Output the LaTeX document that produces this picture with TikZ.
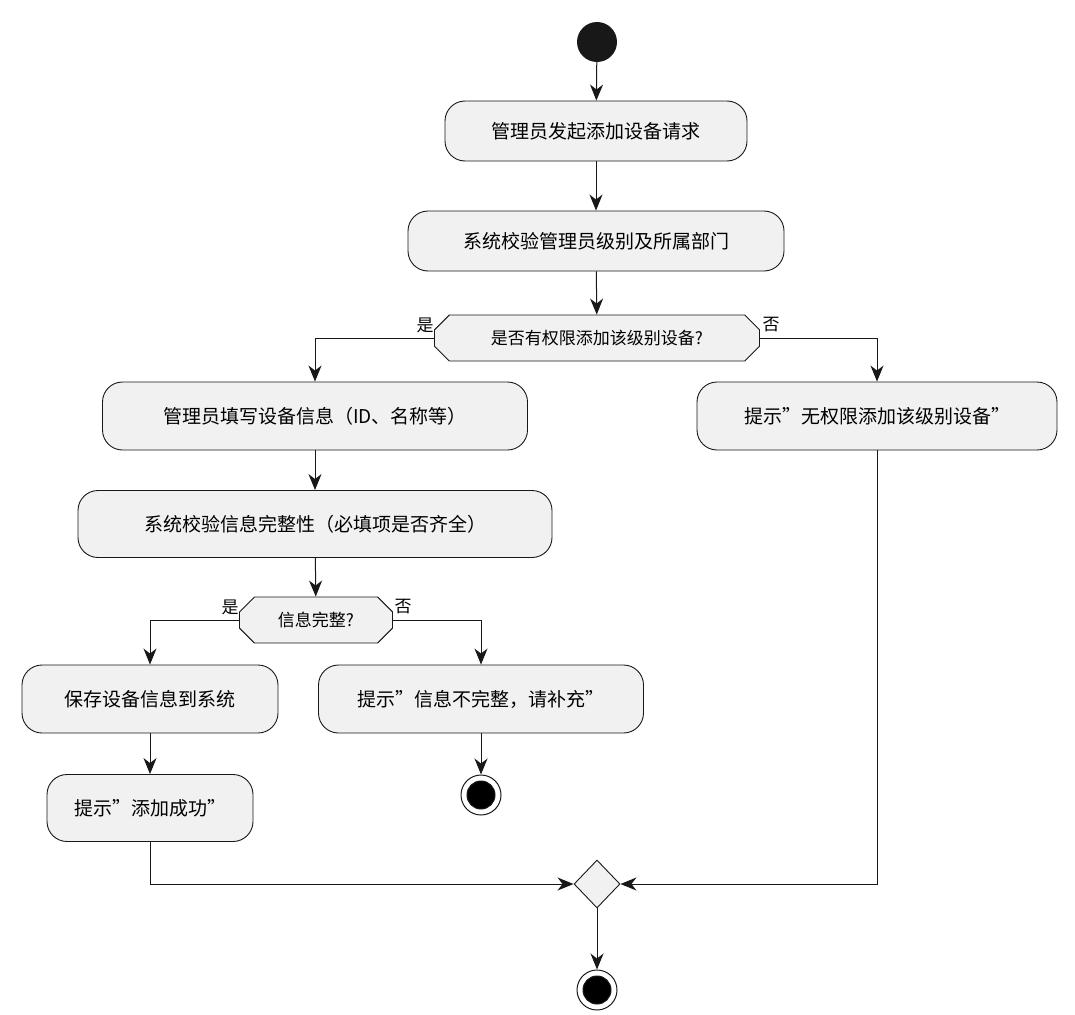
\documentclass[tikz,border=0pt]{standalone}
\usepackage{fontspec}
\setmainfont{Noto Sans CJK SC}
\usetikzlibrary{arrows.meta,shapes.geometric,shapes.misc}
\definecolor{bx}{HTML}{F1F1F1}
\definecolor{ln}{HTML}{181818}
\begin{document}
\begin{tikzpicture}[x=1pt,y=-1pt,
  act/.style={draw=ln,line width=0.9pt,fill=bx,rounded corners=20pt,minimum height=67pt,inner xsep=20pt,font=\fontsize{19}{22}\selectfont},
  hx/.style={draw=ln,line width=0.9pt,fill=bx,chamfered rectangle,chamfered rectangle xsep=23pt,chamfered rectangle angle=45,minimum height=46pt,inner xsep=4pt,font=\fontsize{17}{20}\selectfont},
  lb/.style={font=\fontsize{17}{20}\selectfont},
  ar/.style={draw=ln,line width=1pt,-{Stealth[length=16pt,width=13pt,inset=5pt]}},
  ln/.style={draw=ln,line width=1pt}]
\useasboundingbox (0,0) rectangle (1075,1014);
\node[circle,fill=ln,minimum size=40pt,inner sep=0] (s) at (597,42) {};
\node[act,minimum width=302pt,minimum height=60pt] (b1) at (596,131) {管理员发起添加设备请求};
\node[act,minimum width=376pt,minimum height=60pt] (b2) at (596,241) {系统校验管理员级别及所属部门};
\node[hx,minimum width=325pt] (d1) at (597,338) {是否有权限添加该级别设备?};
\node[act,minimum width=425pt,minimum height=68pt] (b3) at (315,416) {管理员填写设备信息（ID、名称等）};
\node[act,minimum width=360pt,minimum height=68pt] (b4) at (877,416) {提示"无权限添加该级别设备"};
\node[act,minimum width=474pt] (b5) at (315,524) {系统校验信息完整性（必填项是否齐全）};
\node[hx,minimum width=153pt] (d2) at (316,620) {信息完整?};
\node[act,minimum width=256pt,minimum height=68pt] (b6) at (150,699) {保存设备信息到系统};
\node[act,minimum width=325pt,minimum height=68pt] (b7) at (481,699) {提示"信息不完整，请补充"};
\node[circle,draw=ln,line width=1pt,minimum size=40pt,inner sep=0] (e1) at (481,795) {};
\fill[ln] (e1.center) circle (14pt);
\node[act,minimum width=206pt] (b8) at (150,808) {提示"添加成功"};
\node[diamond,draw=ln,line width=0.9pt,fill=bx,minimum width=46pt,minimum height=48pt,inner sep=0] (m) at (597,884) {};
\node[circle,draw=ln,line width=1pt,minimum size=40pt,inner sep=0] (e2) at (597,990) {};
\fill[ln] (e2.center) circle (14pt);
\node[lb] (y1) at (425,325) {是};
\node[lb] (n1) at (771,325) {否};
\node[lb] (y2) at (230,607) {是};
\node[lb] (n2) at (403,607) {否};
\draw[ar] (s) -- (b1);
\draw[ar] (b1) -- (b2);
\draw[ar] (b2) -- (d1);
\draw[ar] (d1.west) -| (b3.north);
\draw[ar] (d1.east) -| (b4.north);
\draw[ar] (b3) -- (b5);
\draw[ar] (b5) -- (d2);
\draw[ar] (d2.west) -| (b6.north);
\draw[ar] (d2.east) -| (b7.north);
\draw[ar] (b7) -- (e1);
\draw[ar] (b6) -- (b8);
\draw[ar] (b8.south) |- (m.west);
\draw[ar] (b4.south) |- (m.east);
\draw[ar] (m) -- (e2);
\end{tikzpicture}
\end{document}
